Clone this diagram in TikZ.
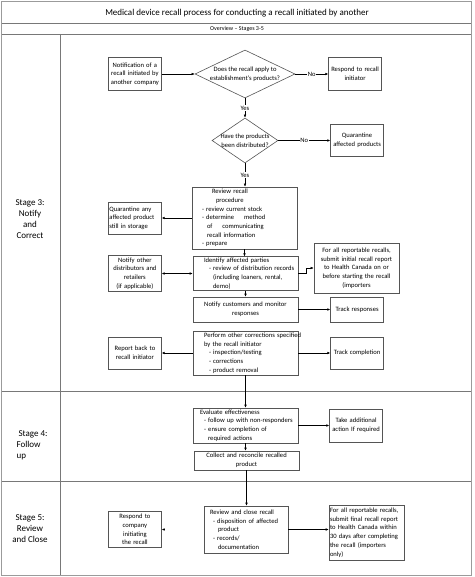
\documentclass[tikz,border=0pt]{standalone}
\usepackage{fontspec}
\setmainfont{Carlito}
\usetikzlibrary{arrows.meta,positioning,shapes.geometric}
\definecolor{FrameGray}{RGB}{120,120,120}
\definecolor{BorderGray}{RGB}{155,155,155}
\definecolor{BoxGray}{RGB}{85,85,85}
\newcommand{\boxfont}{\fontsize{6.6}{8.7}\selectfont}
\newcommand{\stagefont}{\fontsize{9}{11}\selectfont}
\tikzset{
  stepbox/.style={
    draw=BoxGray,
    line width=0.6pt,
    align=center,
    inner sep=1pt,
    font=\boxfont
  },
  mainbox/.style={stepbox,text width=103pt},
  sidebox/.style={stepbox,text width=51pt},
  decision/.style={draw=BoxGray,line width=0.6pt,diamond,inner sep=-2pt,align=center,font=\boxfont},
  arrow/.style={-{Latex[length=3pt,width=2.6pt]},line width=0.5pt},
  twoway/.style={{Latex[length=3pt,width=2.6pt]}-{Latex[length=3pt,width=2.6pt]},line width=0.5pt},
  answer/.style={fill=white,inner sep=0.5pt,font=\boxfont},
  rule/.style={draw=FrameGray,line width=0.6pt},
  stagetitle/.style={align=center,font=\stagefont}
}

\begin{document}
\begin{tikzpicture}[x=1pt,y=-1pt]
\useasboundingbox (0,0) rectangle (474,577);

\draw[rule] (1.5,23) -- (471.5,23);
\draw[rule] (1.5,34) -- (471.5,34);
\draw[rule] (1.5,391) -- (471.5,391);
\draw[rule] (1.5,481) -- (471.5,481);
\draw[rule] (60,34) -- (60,575.5);
\draw[BorderGray,line width=1.6pt] (1.5,1.5) rectangle (471.5,575.5);

\node[font=\fontsize{9}{10}\selectfont] (title) at (237,13)
  {Medical device recall process for conducting a recall initiated by another};
\node[font=\fontsize{6}{7}\selectfont] (sub) at (237,28.5) {Overview -- Stages 3-5};

\node[stagetitle] (st3) at (30,219) {Stage 3:\\Notify\\and\\Correct};
\node[stagetitle,align=left,anchor=west] (st4) at (13,445) {\hspace*{2pt}Stage 4:\\Follow\\up};
\node[stagetitle] (st5) at (30,529) {Stage 5:\\Review\\and Close};

\node[decision,aspect=2.08,minimum width=100pt,minimum height=48pt] (c1) at (245,74)
  {Does the recall apply to\\establishment's products?};
\node[decision,aspect=1.47,minimum width=66pt,minimum height=45pt] (c2) at (245,140.5)
  {Have the products\\been distributed?};
\node[mainbox,align=left,minimum height=62pt] (c3) at (244.5,218)
  {\hspace*{19pt}Review recall\\
   \hspace*{23pt}procedure\\
   \hspace*{9pt}- review current stock\\
   \hspace*{9pt}- determine\hspace{10pt}method\\
   \hspace*{14pt}of\hspace{10pt}communicating\\
   \hspace*{14pt}recall information\\
   \hspace*{9pt}- prepare};
\node[mainbox,align=left,minimum height=33pt] (c4) at (245.5,273.5)
  {\hspace*{10pt}Identify affected parties\\
   \hspace*{15pt}- review of distribution records\\
   \hspace*{19pt}(including loaners, rental,\\
   \hspace*{19pt}demo)};
\node[mainbox,minimum height=25pt] (c5) at (245.5,309.5)
  {Notify customers and monitor\\responses};
\node[mainbox,align=left,minimum height=44pt] (c6) at (245.5,353)
  {\hspace*{10pt}\mbox{Perform other corrections specified}\\
   \hspace*{10pt}by the recall initiator\\
   \hspace*{15pt}- inspection/testing\\
   \hspace*{15pt}- corrections\\
   \hspace*{15pt}- product removal};
\node[mainbox,align=left,minimum height=35pt] (c7) at (245.5,425.5)
  {\hspace*{6pt}Evaluate effectiveness\\
   \hspace*{10pt}- follow up with non-responders\\
   \hspace*{10pt}- ensure completion of\\
   \hspace*{14pt}required actions};
\node[mainbox,minimum height=19pt] (c8) at (246.5,460.5)
  {Collect and reconcile recalled\\product};
\node[stepbox,align=left,text width=82pt,minimum height=47pt] (c9) at (246,529.5)
  {\hspace*{5pt}Review and close recall\\
   \hspace*{8pt}- disposition of affected\\
   \hspace*{13pt}product\\
   \hspace*{8pt}- records/\\
   \hspace*{13pt}documentation};

\node[sidebox,minimum height=33pt,left=33pt of c1] (l1)
  {Notification of a\\recall initiated by\\another company};
\node[sidebox,align=left,minimum height=32pt,left=30pt of c3] (l2)
  {Quarantine any\\affected product\\still in storage};
\node[sidebox,minimum height=36pt,left=31pt of c4] (l3)
  {Notify other\\distributors and\\retailers\\(if applicable)};
\node[sidebox,minimum height=32pt,left=31pt of c6] (l4)
  {Report back to\\recall initiator};
\node[sidebox,minimum height=36pt,left=42pt of c9] (l5)
  {Respond to\\company\\initiating\\the recall};

\node[sidebox,minimum height=33pt,right=33pt of c1] (r1)
  {Respond to recall\\initiator};
\node[sidebox,minimum height=32pt,right=52pt of c2] (r2)
  {Quarantine\\affected products};
\node[stepbox,text width=83pt,minimum height=50pt] (r3) at (356.5,268)
  {For all reportable recalls,\\submit initial recall report\\to Health Canada on or\\before starting the recall\\(importers};
\node[sidebox,minimum height=25pt,right=32pt of c5] (r4) {Track responses};
\node[sidebox,minimum height=32pt,right=32pt of c6] (r5) {Track completion};
\node[sidebox,minimum height=33pt,right=31pt of c7] (r6)
  {Take additional\\action If required};
\node[stepbox,align=left,text width=73pt,minimum height=55pt] (r7) at (366.5,532.5)
  {For all reportable recalls,\\submit final recall report\\to Health Canada within\\30 days after completing\\the recall (importers\\only)};

\draw[arrow] (l1) -- (c1);
\draw[arrow] (c1) -- node[answer] {No} (r1);
\draw[arrow] (c1) -- node[answer] {Yes} (c2);
\draw[arrow] (c2) -- node[answer] {No} (r2);
\draw[arrow] (c2.south) -- node[answer] {Yes} (c2.south |- c3.north);
\draw[arrow] (c3) -- (l2);
\draw[arrow] (c3.south) -- (c3.south |- c4.north);
\draw[twoway] (l3) -- (c4);
\draw[arrow] (c4.east) -- ++(8,0) |- (r3.west);
\draw[arrow] (c4) -- (c5);
\draw[arrow] (c5) -- (r4);
\draw[arrow] (c6) -- (l4);
\draw[arrow] (c6) -- (r5);
\draw[arrow] (c6) -- (c7);
\draw[arrow] (c7) -- (r6);
\draw[arrow] (c7.south) -- (c7.south |- c8.north);
\draw[arrow] (c8.south) -- (c8.south |- c9.north);
\draw[arrow] (c9.east) -- (c9.east -| r7.west);
\coordinate (l5tip) at ([xshift=3pt]l5.east);
\draw[arrow] (l5tip) -- (l5.east);

\end{tikzpicture}
\end{document}
